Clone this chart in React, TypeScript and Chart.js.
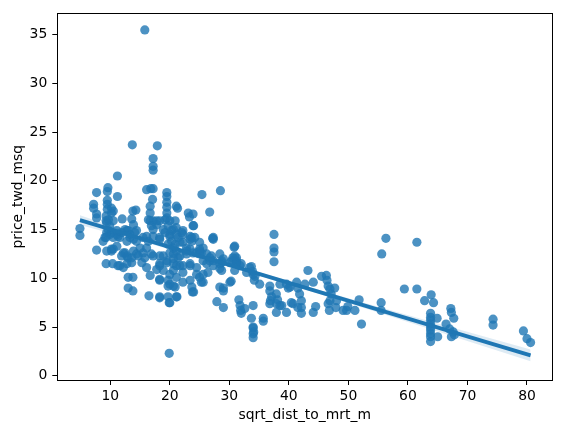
import { useEffect, useRef } from 'react'
import { Chart, registerables } from 'chart.js'

Chart.register(...registerables)

// axis ticks
const X_TICKS = [10, 20, 30, 40, 50, 60, 70, 80]
const Y_TICKS = [0, 5, 10, 15, 20, 25, 30, 35]

// [sqrt_dist_to_mrt_m, price_twd_msq]
const upperLeft: [number, number][] = [
  [15.8, 35.5], [13.7, 23.7], [17.9, 23.6], [17.2, 22.3], [17.2, 21.5], [17.2, 21.1], [11.2, 20.5],
  [9.6, 19.3], [7.7, 18.8], [9.5, 18.9], [9.5, 18.0], [9.5, 17.6], [9.5, 17.1], [11.2, 18.4],
  [7.2, 17.6], [7.2, 17.2], [7.7, 16.6], [7.7, 16.2], [10.2, 17.2], [10.2, 16.7], [10.5, 15.9],
  [9.3, 16.4], [9.3, 15.9], [9.7, 16.0], [12.0, 16.1], [13.8, 16.9], [14.3, 17.0], [13.6, 16.1],
  [13.9, 15.5], [16.1, 19.1], [16.8, 19.2], [17.2, 19.2], [17.1, 18.1], [16.7, 17.4], [16.7, 16.7],
  [16.4, 16.0], [16.7, 15.9], [17.2, 15.9], [19.5, 18.8], [19.5, 18.4], [19.5, 17.8], [19.5, 17.3],
  [19.5, 16.7], [19.5, 16.2], [21.3, 17.2], [23.1, 16.7], [23.9, 16.6], [23.3, 16.3], [24.0, 15.4],
  [25.4, 18.6], [28.5, 19.0], [26.7, 16.8], [10.5, 16.9], [9.9, 15.4], [9.4, 15.7], [21.1, 17.4],
  [20.9, 15.9], [18.3, 15.9], [17.8, 15.5], [16.9, 15.4], [19.7, 15.4], [21.1, 15.2],
]

const coreNear: [number, number][] = [
  [4.9, 15.1], [4.9, 14.4], [7.7, 12.9], [9.3, 14.2], [10.2, 14.7], [11.1, 14.9], [11.3, 14.3],
  [11.6, 14.2], [9.3, 11.5], [10.4, 11.5], [11.3, 11.3], [10.2, 13.0], [11.1, 13.3], [12.8, 14.9],
  [13.3, 14.5], [13.9, 14.0], [12.8, 13.8], [14.1, 14.7], [11.9, 12.3], [12.5, 12.6], [13.0, 12.1],
  [13.9, 12.8], [14.4, 12.5], [12.8, 11.5], [13.6, 11.6], [9.7, 14.9], [18.9, 15.0], [19.2, 14.7],
  [20.0, 14.5], [20.3, 13.8], [19.7, 13.5], [18.3, 14.2], [17.2, 14.3], [16.4, 13.8], [15.5, 14.2],
  [16.1, 13.1], [15.0, 13.1], [14.4, 13.8], [13.3, 14.2], [13.0, 14.9], [12.5, 15.0], [14.4, 14.9],
  [11.9, 14.7], [11.1, 14.5], [10.5, 14.2], [9.9, 14.5], [9.4, 14.7], [9.1, 14.2], [8.8, 13.8],
  [10.5, 13.0], [10.2, 12.8], [9.4, 12.8], [21.4, 14.2], [20.9, 13.5], [21.1, 12.8], [20.6, 12.5],
  [12.2, 11.1], [13.0, 10.1], [13.8, 10.1], [13.0, 9.0], [13.8, 8.7], [16.5, 8.2], [18.3, 8.0],
  [19.9, 7.5], [21.2, 8.1], [16.7, 10.3], [18.3, 9.8], [19.9, 2.3], [16.1, 11.1], [18.3, 11.5],
  [20.0, 9.4], [20.9, 9.1], [20.0, 10.4], [20.6, 10.8], [21.1, 10.1], [12.2, 12.6], [12.8, 12.3],
  [13.6, 12.1], [14.7, 12.3], [15.8, 12.1], [16.9, 12.5], [18.3, 12.3], [19.5, 11.8], [20.6, 11.5],
  [21.4, 12.1], [15.3, 11.6], [17.8, 10.9], [18.9, 10.8], [11.6, 11.3],
]

const centreBlob: [number, number][] = [
  [18.3, 9.9], [19.7, 9.8], [19.7, 9.2], [20.6, 9.2], [22.2, 10.6], [24.5, 10.4], [26.4, 10.6],
  [26.7, 11.8], [28.4, 11.0], [28.7, 11.6], [30.1, 9.6], [30.9, 13.3], [31.2, 11.6], [28.4, 9.1],
  [18.3, 8.1], [19.7, 8.1], [27.3, 14.2], [23.9, 15.4], [23.7, 14.2], [22.0, 14.7], [22.2, 13.7],
  [22.8, 13.1], [23.4, 13.0], [25.0, 13.0], [25.3, 12.6], [18.3, 11.3], [19.5, 11.6], [20.6, 12.0],
  [21.1, 11.3], [22.2, 11.3], [23.4, 11.3], [18.9, 12.3], [20.0, 12.6], [17.2, 12.3], [15.5, 12.6],
  [16.1, 14.3], [17.2, 15.0], [18.3, 14.0], [20.0, 14.3], [20.6, 15.0], [20.0, 15.9], [17.8, 15.9],
  [19.2, 16.0],
]

const coreMid: [number, number][] = [
  [20.3, 14.9], [21.1, 14.5], [22.2, 14.9], [23.4, 14.3], [24.2, 14.2], [25.0, 13.7], [25.6, 13.1],
  [21.7, 13.7], [20.6, 13.1], [22.8, 12.8], [24.5, 12.6], [26.2, 12.5], [27.0, 12.3], [28.4, 12.5],
  [29.0, 12.0], [30.6, 12.1], [31.2, 11.8], [22.2, 14.5], [23.7, 13.8], [23.4, 14.0], [25.0, 12.8],
  [27.3, 14.0], [27.2, 14.1], [30.8, 13.2], [28.7, 11.8], [21.7, 12.3], [22.8, 12.5], [23.9, 12.6],
  [25.0, 12.5], [25.6, 11.8], [26.2, 11.5], [24.5, 11.1], [23.4, 11.5], [21.7, 11.3], [22.2, 9.6],
  [23.4, 9.8], [25.0, 10.1], [25.6, 9.6], [23.7, 9.1], [23.8, 8.6], [26.7, 12.1], [27.3, 11.3],
  [28.4, 11.5], [28.7, 10.8], [30.4, 11.8], [31.2, 12.1], [30.1, 11.6], [31.2, 11.5], [32.0, 11.5],
  [33.4, 11.1], [32.9, 10.6], [30.9, 10.8], [20.0, 7.5], [21.1, 8.1], [25.3, 9.6], [27.9, 7.6],
  [29.0, 7.0], [29.0, 9.0], [29.0, 8.7], [30.3, 9.7], [31.6, 7.8], [31.8, 7.2], [31.9, 6.7],
  [32.0, 6.4], [32.6, 6.9], [34.0, 7.2], [30.9, 12.3], [33.7, 11.2], [34.0, 10.4], [34.2, 9.8],
  [35.1, 9.4], [31.8, 11.3], [27.3, 11.8], [25.6, 10.4], [24.0, 8.6],
]

const coreFar: [number, number][] = [
  [33.7, 5.9], [34.0, 4.9], [34.0, 4.3], [34.0, 3.9], [35.7, 5.9], [35.7, 5.6], [33.9, 10.7],
  [34.3, 10.2], [37.5, 14.5], [37.5, 13.1], [37.5, 12.7], [37.5, 11.7], [36.8, 9.2], [36.8, 8.7],
  [37.1, 8.1], [36.9, 7.7], [37.9, 7.4], [37.9, 6.5], [38.5, 7.2], [39.6, 6.5], [38.5, 9.4],
  [39.6, 9.4], [40.2, 9.1], [40.7, 7.4], [41.5, 7.0], [37.9, 8.4], [38.1, 7.8], [38.8, 7.2],
  [36.8, 7.4], [39.9, 9.0], [40.4, 7.5], [41.3, 9.6], [41.5, 9.0], [41.8, 8.4], [42.1, 7.7],
  [42.1, 7.0], [42.1, 6.4], [43.2, 10.8], [44.1, 9.6], [42.7, 9.4], [44.1, 6.5], [44.5, 7.1],
  [45.5, 10.2], [46.3, 10.3], [46.4, 9.8], [46.6, 9.2], [46.9, 8.9], [47.1, 8.4], [46.9, 7.7],
  [46.8, 6.7], [46.6, 7.4], [47.7, 9.0], [48.0, 7.7], [47.9, 7.0], [49.1, 6.7], [49.7, 6.7],
  [49.9, 7.1], [51.1, 6.7], [51.8, 7.8], [52.2, 5.3], [55.6, 12.5], [56.3, 14.1], [55.5, 7.5],
  [55.5, 6.7], [34.0, 5.0], [34.1, 4.5],
]

const outskirts: [number, number][] = [
  [61.5, 13.7], [59.4, 8.9], [61.5, 8.9], [62.8, 7.7], [63.9, 8.3], [64.3, 7.5], [63.8, 6.4],
  [63.8, 6.0], [63.8, 5.7], [63.8, 5.3], [63.8, 5.0], [63.8, 4.7], [63.8, 4.3], [63.8, 4.0],
  [63.8, 3.5], [64.9, 5.9], [65.0, 4.0], [67.2, 6.9], [67.3, 6.5], [67.7, 5.9], [66.4, 5.3],
  [67.0, 4.8], [67.6, 4.5], [67.8, 4.2], [67.3, 4.0], [74.3, 5.8], [74.3, 5.2], [79.4, 4.6],
  [80.0, 3.8], [80.6, 3.4],
]

// regression line and its confidence band
const FIT_X = [4.9, 80.6]
const FIT_Y = [15.97, 2.09]
const BAND_X = [4.9, 15, 25, 35, 45, 55, 65, 80.6]
const BAND_HI = [16.47, 14.42, 12.48, 10.63, 8.82, 7.08, 5.35, 2.69]
const BAND_LO = [15.47, 13.82, 12.08, 10.27, 8.42, 6.48, 4.55, 1.49]

const BLUE = '#1f77b4'
const FONT = { family: 'DejaVu Sans', size: 13.9 }

const framePlugin = {
  id: 'frame',
  afterDraw(chart: Chart) {
    const { ctx, chartArea: a } = chart
    ctx.save()
    ctx.strokeStyle = '#000'
    ctx.lineWidth = 1
    ctx.strokeRect(Math.round(a.left) + 0.5, Math.round(a.top) + 0.5, Math.round(a.right - a.left), Math.round(a.bottom - a.top))
    ctx.restore()
  },
}

const toXY = (xs: number[], ys: number[]) => xs.map((x, i) => ({ x, y: ys[i] }))
const pairs = (list: [number, number][]) => list.map(([x, y]) => ({ x, y }))

export default function App() {
  const canvasRef = useRef<HTMLCanvasElement | null>(null)

  useEffect(() => {
    if (!canvasRef.current) return
    const points = [...upperLeft, ...coreNear, ...centreBlob, ...coreMid, ...coreFar, ...outskirts]

    const chart = new Chart(canvasRef.current, {
      type: 'scatter',
      data: {
        datasets: [
          {
            data: toXY(FIT_X, FIT_Y),
            showLine: true,
            borderColor: BLUE,
            borderWidth: 3.7,
            pointRadius: 0,
            order: 0,
          },
          {
            data: toXY(BAND_X, BAND_HI),
            showLine: true,
            borderColor: 'transparent',
            backgroundColor: 'rgba(31,119,180,0.15)',
            pointRadius: 0,
            fill: '+1',
            order: 1,
          },
          {
            data: toXY(BAND_X, BAND_LO),
            showLine: true,
            borderColor: 'transparent',
            pointRadius: 0,
            fill: false,
            order: 1,
          },
          {
            data: pairs(points),
            backgroundColor: 'rgba(31,119,180,0.8)',
            borderWidth: 0,
            pointRadius: 4.6,
            order: 2,
          },
        ],
      },
      options: {
        animation: false,
        responsive: true,
        maintainAspectRatio: false,
        events: [],
        layout: { padding: { left: 0, top: 11, right: 11, bottom: 0 } },
        scales: {
          x: {
            type: 'linear',
            min: 1.1,
            max: 84.2,
            // eslint-disable-next-line @typescript-eslint/no-explicit-any
            afterBuildTicks: (s: any) => { s.ticks = X_TICKS.map((value) => ({ value })) },
            // eslint-disable-next-line @typescript-eslint/no-explicit-any
            afterFit: (s: any) => { s.height = 53 },
            border: { display: false },
            grid: { drawOnChartArea: false, tickLength: 5, color: '#000' },
            ticks: { color: '#000', font: FONT, padding: 3, maxRotation: 0, autoSkip: false },
            title: { display: true, text: 'sqrt_dist_to_mrt_m', color: '#000', font: FONT, padding: { top: 0, bottom: 9 } },
          },
          y: {
            type: 'linear',
            min: -0.44,
            max: 37.2,
            // eslint-disable-next-line @typescript-eslint/no-explicit-any
            afterBuildTicks: (s: any) => { s.ticks = Y_TICKS.map((value) => ({ value })) },
            // eslint-disable-next-line @typescript-eslint/no-explicit-any
            afterFit: (s: any) => { s.width = 57.3 },
            border: { display: false },
            grid: { drawOnChartArea: false, tickLength: 5, color: '#000' },
            ticks: { color: '#000', font: FONT, padding: 5, autoSkip: false },
            title: { display: true, text: 'price_twd_msq', color: '#000', font: FONT, padding: { top: 10, bottom: 0 } },
          },
        },
        plugins: {
          legend: { display: false },
          tooltip: { enabled: false },
        },
      },
      plugins: [framePlugin],
    })

    return () => chart.destroy()
  }, [])

  return (
    <div style={{ position: 'fixed', left: 0, top: 0, width: 563, height: 433, background: '#fff' }}>
      <canvas ref={canvasRef} />
    </div>
  )
}
